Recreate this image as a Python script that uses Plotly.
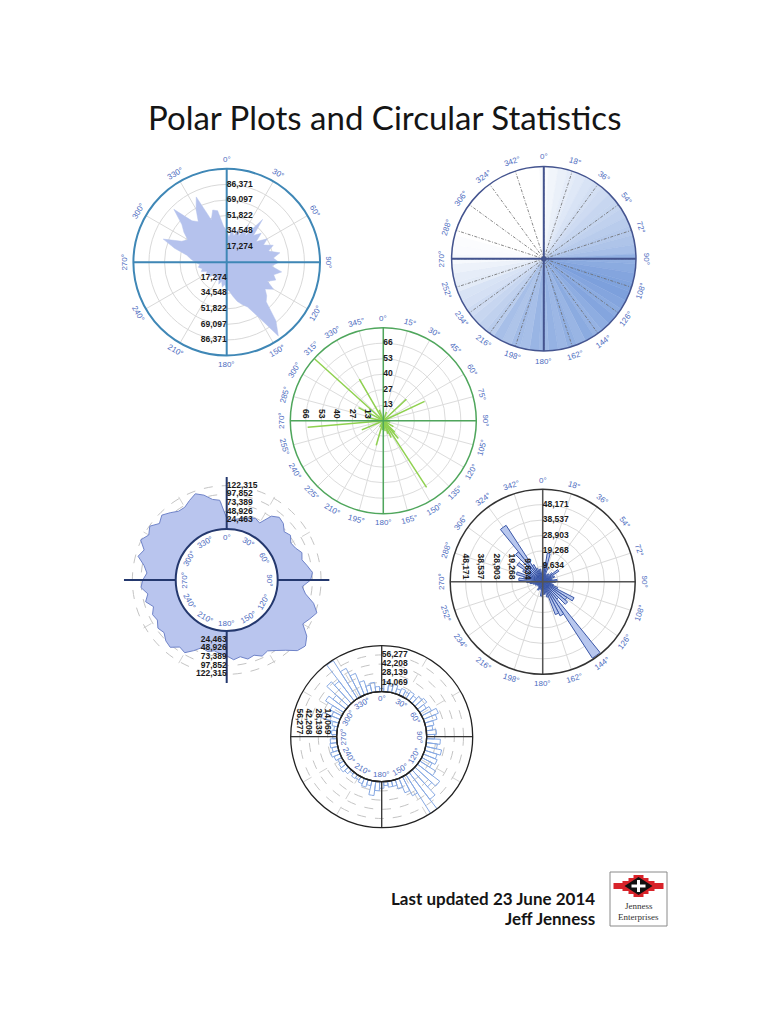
import math
import plotly.graph_objects as go
from plotly.colors import sample_colorscale

# page offset of the plot div (body margin) and figure size
OX, OY = 8, 8
W, H = 760, 1016

# ---------------- data ----------------
# 1: filled rose (top left)
rose_theta = list(range(0, 360, 5))
rose_vals = [35000, 28000, 38000, 30000, 40000, 32000, 48000, 36000, 62000, 42000, 50000, 40000,
             52000, 45000, 55000, 48000, 60000, 52000, 58000, 50000, 62000, 54000, 58000, 50000,
             60000, 52000, 58000, 62000, 85000, 100000, 70000, 55000, 50000, 45000, 38000, 32000,
             30000, 25000, 28000, 22000, 26000, 20000, 24000, 18000, 22000, 20000, 25000, 22000,
             26000, 24000, 30000, 28000, 32000, 30000, 35000, 40000, 45000, 60000, 75000, 55000,
             50000, 58000, 65000, 83000, 60000, 55000, 68000, 80000, 50000, 60000, 58000, 40000]
rose_ticks = [17274, 34548, 51822, 69097, 86371]
rose_labels = ['17,274', '34,548', '51,822', '69,097', '86,371']
rose_max = 103645
rose_angles = list(range(0, 360, 30))

# 2: shaded wedges (top right)
wedge_theta = list(range(0, 360, 6))
wedge_vals = [0.04, 0.08, 0.12, 0.15, 0.18, 0.22, 0.25, 0.28, 0.32, 0.33, 0.36, 0.40,
              0.42, 0.46, 0.50, 0.62, 0.66, 0.70, 0.72, 0.74, 0.70, 0.66, 0.70, 0.64,
              0.60, 0.66, 0.58, 0.62, 0.56, 0.60, 0.55, 0.58, 0.50, 0.52, 0.46, 0.50,
              0.40, 0.36, 0.32, 0.28, 0.24, 0.22, 0.16, 0.14, 0.10, 0.05, 0.03, 0.02,
              0.0, 0.0, 0.0, 0.0, 0.0, 0.0, 0.0, 0.0, 0.0, 0.0, 0.0, 0.0]
wedge_angles = list(range(0, 360, 18))

# 3: green line segments (middle)
seg_theta = [312, 330, 298, 265, 247, 196, 47, 65, 147, 120, 135, 160, 170, 185, 210, 100, 20, 340, 280, 140, 155]
seg_vals = [79, 41, 24, 65, 20, 22, 27, 39, 68, 10, 14, 12, 9, 8, 6, 6, 8, 10, 14, 20, 16]
seg_ticks = [13.27, 26.54, 39.81, 53.08, 66.35]
seg_labels = ['13', '27', '40', '53', '66']
seg_max = 79.6
seg_angles = list(range(0, 360, 15))

# 4: filled ring (middle left)
ring_theta = list(range(0, 360, 5))
ring_vals = [31000, 25000, 31000, 37000, 42000, 48000, 42000, 76000, 87000, 82000, 68000, 76000,
             65000, 70000, 82000, 76000, 87000, 99000, 93000, 70000, 82000, 110000, 127000, 115000,
             104000, 132000, 146000, 138000, 115000, 99000, 87000, 93000, 82000, 87000, 76000, 82000,
             70000, 65000, 59000, 65000, 59000, 76000, 93000, 87000, 104000, 99000, 87000, 93000,
             82000, 87000, 76000, 93000, 82000, 99000, 93000, 82000, 93000, 115000, 104000, 124000,
             110000, 121000, 104000, 115000, 104000, 93000, 93000, 104000, 115000, 104000, 87000, 82000]
ring_ticks = [24463, 48926, 73389, 97852, 122315]
ring_labels = ['24,463', '48,926', '73,389', '97,852', '122,315']
ring_max = 146778
ring_angles = list(range(0, 360, 30))

# 5: bar rose (middle right)
bar_theta = list(range(0, 360, 6))
bar_vals = [6000, 12000, 18000, 9000, 5000, 4000, 6000, 5000, 8000, 12000, 6000, 8000,
            5000, 6000, 9000, 8000, 6000, 5000, 7000, 10000, 22000, 18000, 20000, 14000,
            57000, 24000, 22000, 10000, 7000, 8000, 6000, 9000, 5000, 4000, 5000, 6000,
            4000, 3000, 4000, 3000, 4000, 5000, 4000, 6000, 8000, 10000, 15000, 12000,
            17000, 10000, 14000, 19000, 13000, 24000, 42000, 12000, 9000, 7000, 8000, 5000]
bar_ticks = [9634, 19268, 28903, 38537, 48171]
bar_labels = ['9,634', '19,268', '28,903', '38,537', '48,171']
bar_max = 57805
bar_angles = list(range(0, 360, 18))

# 6: outlined bar ring (bottom)
obar_theta = list(range(0, 360, 5))
obar_vals = [5000, 16000, 10000, 13000, 8000, 11000, 9000, 13000, 10000, 15000, 18000, 12000,
             17000, 25000, 20000, 13000, 10000, 15000, 12000, 21000, 17000, 25000, 20000, 23000,
             18000, 29000, 43000, 35000, 52000, 70000, 33000, 24000, 15000, 9000, 9000, 6000,
             10000, 14000, 22000, 8000, 12000, 9000, 6000, 7000, 3000, 8000, 11000, 9000,
             7000, 10000, 13000, 9000, 11000, 10000, 6000, 8000, 5000, 9000, 28000, 14000,
             20000, 33000, 25000, 45000, 38000, 69000, 49000, 36000, 21000, 12000, 15000, 8000]
obar_ticks = [14069, 28139, 42208, 56277]
obar_labels = ['14,069', '28,139', '42,208', '56,277']
obar_max = 70345
obar_angles = list(range(0, 360, 30))

# ---------------- layout geometry (page pixels) ----------------
geo = {
    'polar':  dict(cx=226.7, cy=262.2, R=93.3, hole=0),
    'polar2': dict(cx=543.8, cy=258.8, R=92.2, hole=0),
    'polar3': dict(cx=383.3, cy=420.7, R=93.0, hole=0),
    'polar4': dict(cx=226.7, cy=580.0, R=103.0, hole=51.0),
    'polar5': dict(cx=542.7, cy=581.7, R=92.5, hole=0),
    'polar6': dict(cx=381.7, cy=736.7, R=91.0, hole=45.0),
}

LABEL_BLUE = '#4d6cc0'
TICKFONT = dict(family='Liberation Sans Narrow, Liberation Sans', size=8.5, color='#1a1a1a', weight='bold')


def fx(x):
    return (x - OX) / W


def fy(y):
    return 1 - (y - OY) / H


def domain(g):
    return dict(x=[fx(g['cx'] - g['R']), fx(g['cx'] + g['R'])],
                y=[fy(g['cy'] + g['R']), fy(g['cy'] - g['R'])])


def angle_labels(g, rad, angles):
    out = []
    for a in angles:
        t = math.radians(a)
        x = g['cx'] + rad * math.sin(t)
        y = g['cy'] - rad * math.cos(t)
        if a <= 90:
            rot = a
        elif a < 270:
            rot = a - 180
        else:
            rot = a - 360
        out.append(dict(x=fx(x), y=fy(y), xref='paper', yref='paper', text=f'{a}°',
                        textangle=rot, showarrow=False, xanchor='center', yanchor='middle',
                        font=dict(family='Liberation Sans', size=8, color=LABEL_BLUE)))
    return out


def cross(sub, rmax, color, width):
    return go.Scatterpolar(r=[0, rmax, None] * 4,
                           theta=[0, 0, None, 90, 90, None, 180, 180, None, 270, 270, None],
                           mode='lines', line=dict(color=color, width=width),
                           subplot=sub, hoverinfo='skip')


def radial_text(sub, theta, vals, texts, pos):
    return go.Scatterpolar(r=vals, theta=[theta] * len(vals), mode='text', text=texts,
                           textposition=pos, textfont=TICKFONT, subplot=sub, hoverinfo='skip')


fig = go.Figure()

# 1
fig.add_trace(go.Scatterpolar(r=rose_vals + rose_vals[:1], theta=rose_theta + rose_theta[:1],
                              mode='lines', fill='toself', fillcolor='#b5c2ed',
                              line=dict(color='#b5c2ed', width=0.5), subplot='polar'))
fig.add_trace(cross('polar', rose_max, '#3f87b6', 2))
fig.add_trace(radial_text('polar', 0, rose_ticks, rose_labels, 'middle right'))
fig.add_trace(radial_text('polar', 180, rose_ticks, rose_labels, 'middle left'))

# 2
wedge_colors = sample_colorscale([[0, '#ffffff'], [1, '#4f7fd0']], wedge_vals)
fig.add_trace(go.Barpolar(r=[1] * len(wedge_theta), theta=wedge_theta, width=6,
                          marker=dict(color=wedge_colors, line=dict(color=wedge_colors, width=0.5)),
                          subplot='polar2'))
spoke_r, spoke_t = [], []
for a in wedge_angles:
    spoke_r += [0, 1, None]
    spoke_t += [a, a, None]
fig.add_trace(go.Scatterpolar(r=spoke_r, theta=spoke_t, mode='lines',
                              line=dict(color='#6a6a6a', width=0.8, dash='3px,1.5px,1px,1.5px'),
                              subplot='polar2'))
fig.add_trace(cross('polar2', 1, '#44548f', 2))
fig.add_trace(go.Scatterpolar(r=[0], theta=[0], mode='markers',
                              marker=dict(size=5, color='#44548f'), subplot='polar2'))

# 3
seg_r, seg_t = [], []
for a, v in zip(seg_theta, seg_vals):
    seg_r += [0, v, None]
    seg_t += [a, a, None]
fig.add_trace(go.Scatterpolar(r=seg_r, theta=seg_t, mode='lines',
                              line=dict(color='#8fd14f', width=1.5), subplot='polar3'))
fig.add_trace(cross('polar3', seg_max, '#4fa65c', 1.5))
fig.add_trace(radial_text('polar3', 0, seg_ticks, seg_labels, 'middle right'))

# 4
fig.add_trace(go.Scatterpolar(r=ring_vals + ring_vals[:1], theta=ring_theta + ring_theta[:1],
                              mode='lines', fill='toself', fillcolor='#b9c5ee',
                              line=dict(color='#6f83c8', width=1), subplot='polar4'))
fig.add_trace(cross('polar4', ring_max, '#24386e', 2))
fig.add_trace(radial_text('polar4', 0, ring_ticks, ring_labels, 'middle right'))
fig.add_trace(radial_text('polar4', 180, ring_ticks, ring_labels, 'middle left'))

# 5
fig.add_trace(go.Barpolar(r=bar_vals, theta=bar_theta, width=6,
                          marker=dict(color='#b8c7ee', line=dict(color='#3a56a6', width=1)),
                          subplot='polar5'))
fig.add_trace(cross('polar5', bar_max, '#555555', 1.5))
fig.add_trace(radial_text('polar5', 0, bar_ticks, bar_labels, 'middle right'))

# 6
fig.add_trace(go.Barpolar(r=obar_vals, theta=obar_theta, width=5,
                          marker=dict(color='rgba(255,255,255,0)', line=dict(color='#86a8e2', width=1)),
                          subplot='polar6'))
fig.add_trace(cross('polar6', obar_max, '#333333', 1.3))
fig.add_trace(radial_text('polar6', 0, obar_ticks, obar_labels, 'middle right'))

ang_common = dict(direction='clockwise', rotation=90, showticklabels=False, ticks='')

fig.update_layout(
    width=W, height=H, margin=dict(l=0, r=0, t=0, b=0),
    paper_bgcolor='white', showlegend=False, hovermode=False,
    polar=dict(domain=domain(geo['polar']), bgcolor='rgba(0,0,0,0)',
               angularaxis=dict(**ang_common, showline=True, linecolor='#3f87b6', linewidth=2,
                                tickmode='linear', tick0=0, dtick=30, gridcolor='#d9d9d9'),
               radialaxis=dict(range=[0, rose_max], tickvals=rose_ticks, showticklabels=False,
                               showline=False, ticks='', gridcolor='#d9d9d9')),
    polar2=dict(domain=domain(geo['polar2']), bgcolor='rgba(0,0,0,0)',
                angularaxis=dict(**ang_common, showline=True, linecolor='#44548f', linewidth=1.5,
                                 showgrid=False),
                radialaxis=dict(range=[0, 1], visible=False)),
    polar3=dict(domain=domain(geo['polar3']), bgcolor='rgba(0,0,0,0)',
                angularaxis=dict(**ang_common, showline=True, linecolor='#4fa65c', linewidth=1.5,
                                 tickmode='linear', tick0=0, dtick=15, gridcolor='#dcdcdc'),
                radialaxis=dict(range=[0, seg_max], tickvals=seg_ticks, ticktext=seg_labels,
                                angle=180, tickangle=-90, tickfont=TICKFONT, showline=False,
                                ticks='', gridcolor='#dcdcdc')),
    polar4=dict(domain=domain(geo['polar4']), bgcolor='rgba(0,0,0,0)',
                hole=geo['polar4']['hole'] / geo['polar4']['R'],
                angularaxis=dict(**ang_common, showline=False, tickmode='linear', tick0=0, dtick=30,
                                 gridcolor='#d0d0d0', griddash='dash'),
                radialaxis=dict(range=[0, ring_max], tickvals=ring_ticks + [ring_max],
                                showticklabels=False, showline=False, ticks='',
                                gridcolor='#c4c4c4', griddash='dash')),
    polar5=dict(domain=domain(geo['polar5']), bgcolor='rgba(0,0,0,0)',
                angularaxis=dict(**ang_common, showline=True, linecolor='#333333', linewidth=1.5,
                                 tickmode='linear', tick0=0, dtick=18, gridcolor='#d9d9d9'),
                radialaxis=dict(range=[0, bar_max], tickvals=bar_ticks, ticktext=bar_labels,
                                angle=180, tickangle=-90, tickfont=TICKFONT, showline=False,
                                ticks='', gridcolor='#d9d9d9')),
    polar6=dict(domain=domain(geo['polar6']), bgcolor='rgba(0,0,0,0)',
                hole=geo['polar6']['hole'] / geo['polar6']['R'],
                angularaxis=dict(**ang_common, showline=True, linecolor='#222222', linewidth=1.3,
                                 tickmode='linear', tick0=0, dtick=30, gridcolor='#d0d0d0',
                                 griddash='dash'),
                radialaxis=dict(range=[0, obar_max], tickvals=obar_ticks, ticktext=obar_labels,
                                angle=180, tickangle=-90, tickfont=TICKFONT, showline=False,
                                ticks='', gridcolor='#c4c4c4', griddash='dash')),
)

# angular tick labels, placed around each circle
ann = []
ann += angle_labels(geo['polar'], geo['polar']['R'] + 9, rose_angles)
ann += angle_labels(geo['polar2'], geo['polar2']['R'] + 10, wedge_angles)
ann += angle_labels(geo['polar3'], geo['polar3']['R'] + 9, seg_angles)
ann += angle_labels(geo['polar4'], geo['polar4']['hole'] - 8, ring_angles)
ann += angle_labels(geo['polar5'], geo['polar5']['R'] + 9, bar_angles)
ann += angle_labels(geo['polar6'], geo['polar6']['hole'] - 7, obar_angles)

ann.append(dict(x=fx(384), y=fy(117), xref='paper', yref='paper', showarrow=False,
                text='Polar Plots and Circular Statistics', xanchor='center', yanchor='middle',
                font=dict(family='Lato', size=33, color='#151515')))
ann.append(dict(x=fx(597), y=fy(898), xref='paper', yref='paper', showarrow=False,
                text='Last updated 23 June 2014', xanchor='right', yanchor='middle',
                font=dict(family='Lato', size=17, color='#151515', weight='bold')))
ann.append(dict(x=fx(597), y=fy(918), xref='paper', yref='paper', showarrow=False,
                text='Jeff Jenness', xanchor='right', yanchor='middle',
                font=dict(family='Lato', size=17, color='#151515', weight='bold')))
ann.append(dict(x=fx(638.5), y=fy(906), xref='paper', yref='paper', showarrow=False,
                text='Jenness', xanchor='center', yanchor='middle',
                font=dict(family='Liberation Serif', size=9, color='#333333')))
ann.append(dict(x=fx(638.5), y=fy(917), xref='paper', yref='paper', showarrow=False,
                text='Enterprises', xanchor='center', yanchor='middle',
                font=dict(family='Liberation Serif', size=9, color='#333333')))
fig.update_layout(annotations=ann)


# hole rims and logo
def pxpath(pts):
    return 'M ' + ' L '.join(f'{fx(x):.5f},{fy(y):.5f}' for x, y in pts) + ' Z'


shapes = []
for key, col, wd in [('polar4', '#24386e', 2), ('polar6', '#222222', 1.3)]:
    g = geo[key]
    r = g['hole']
    shapes.append(dict(type='circle', xref='paper', yref='paper',
                       x0=fx(g['cx'] - r), x1=fx(g['cx'] + r),
                       y0=fy(g['cy'] + r), y1=fy(g['cy'] - r),
                       line=dict(color=col, width=wd)))

shapes.append(dict(type='rect', xref='paper', yref='paper', x0=fx(610), x1=fx(667),
                   y0=fy(926), y1=fy(872), line=dict(color='#8a8a8a', width=1)))
lx, ly = 638.5, 886
outline = [(lx - 5, ly - 11), (lx + 5, ly - 11), (lx + 5, ly - 8), (lx + 10, ly - 8), (lx + 10, ly - 5),
           (lx + 16, ly - 5), (lx + 16, ly - 3), (lx + 25, ly - 3), (lx + 25, ly + 3), (lx + 16, ly + 3),
           (lx + 16, ly + 5), (lx + 10, ly + 5), (lx + 10, ly + 8), (lx + 5, ly + 8), (lx + 5, ly + 11),
           (lx - 5, ly + 11), (lx - 5, ly + 8), (lx - 10, ly + 8), (lx - 10, ly + 5), (lx - 16, ly + 5),
           (lx - 16, ly + 3), (lx - 25, ly + 3), (lx - 25, ly - 3), (lx - 16, ly - 3), (lx - 16, ly - 5),
           (lx - 10, ly - 5), (lx - 10, ly - 8), (lx - 5, ly - 8)]
shapes.append(dict(type='path', xref='paper', yref='paper', path=pxpath(outline),
                   fillcolor='#d8232a', line=dict(width=0)))
shapes.append(dict(type='path', xref='paper', yref='paper',
                   path=pxpath([(lx, ly - 9), (lx + 14, ly), (lx, ly + 9), (lx - 14, ly)]),
                   fillcolor='#111111', line=dict(width=0)))
shapes.append(dict(type='path', xref='paper', yref='paper',
                   path=pxpath([(lx - 1.5, ly - 6), (lx + 1.5, ly - 6), (lx + 1.5, ly - 1.5), (lx + 7, ly - 1.5),
                                (lx + 7, ly + 1.5), (lx + 1.5, ly + 1.5), (lx + 1.5, ly + 6), (lx - 1.5, ly + 6),
                                (lx - 1.5, ly + 1.5), (lx - 7, ly + 1.5), (lx - 7, ly - 1.5), (lx - 1.5, ly - 1.5)]),
                   fillcolor='#ffffff', line=dict(width=0)))
fig.update_layout(shapes=shapes)

fig.write_html("out.html")
